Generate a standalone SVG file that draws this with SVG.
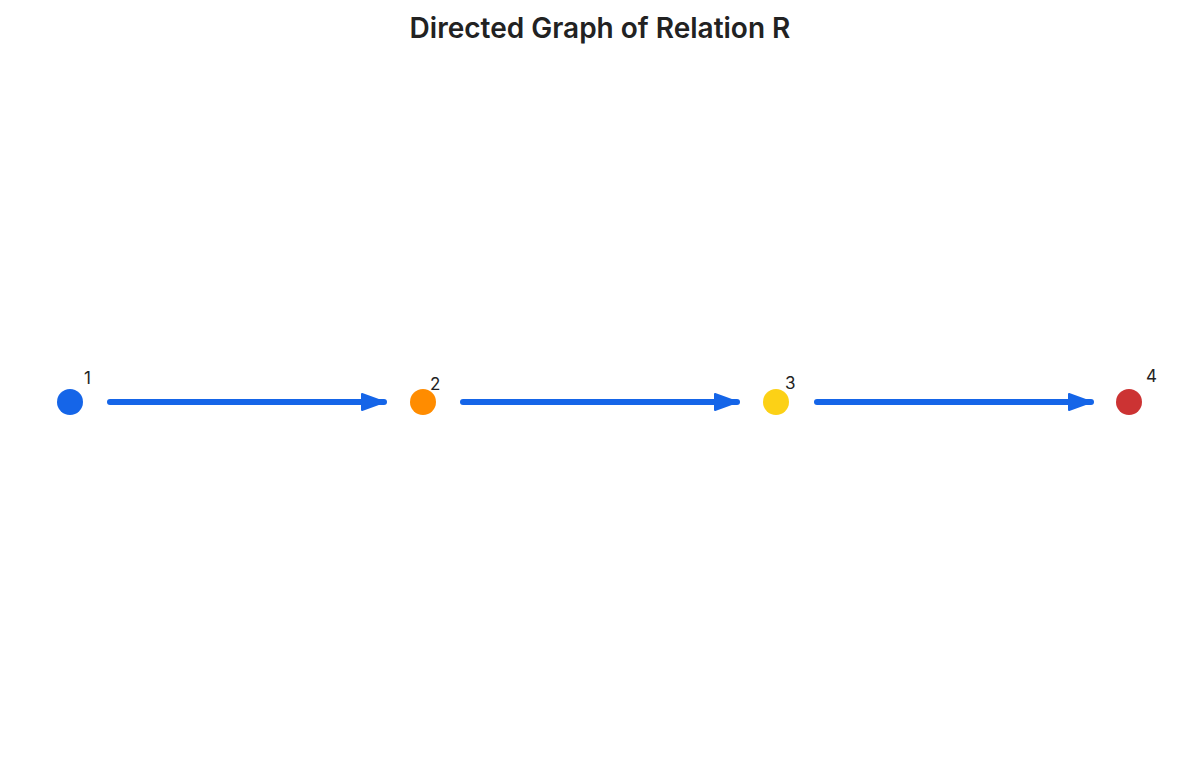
<svg xmlns="http://www.w3.org/2000/svg" width="1200" height="763" viewBox="0 0 1200 763">
<style>
.t{font-family:Inter,"Liberation Sans",sans-serif;font-size:28px;font-weight:600;fill:#222}
.l{font-family:Inter,"Liberation Sans",sans-serif;font-size:17px;fill:#222}
.e{stroke:#1565e8;stroke-width:6;stroke-linecap:round;fill:none}
</style>
<defs><marker id="a" markerUnits="userSpaceOnUse" markerWidth="26" markerHeight="20" refX="24" refY="10" orient="auto"><path d="M2,2 L24,10 L2,18 Z" fill="#1565e8" stroke="#1565e8" stroke-linejoin="round" stroke-width="2"/></marker></defs>
<rect width="1200" height="763" fill="#fff"/>
<text class="t" x="600" y="38" text-anchor="middle">Directed Graph of Relation R</text>
<g id="edges">
<line class="e" x1="110" y1="402" x2="384" y2="402" marker-end="url(#a)"/>
<line class="e" x1="463" y1="402" x2="737" y2="402" marker-end="url(#a)"/>
<line class="e" x1="817" y1="402" x2="1091" y2="402" marker-end="url(#a)"/>
</g>
<g id="n1"><circle cx="70" cy="402" r="13" fill="#1565e8"/><text class="l" x="84" y="384">1</text></g>
<g id="n2"><circle cx="423" cy="402" r="13" fill="#ff8c00"/><text class="l" x="430" y="390">2</text></g>
<g id="n3"><circle cx="776" cy="402" r="13" fill="#fcd116"/><text class="l" x="785" y="389">3</text></g>
<g id="n4"><circle cx="1129" cy="402" r="13" fill="#cc3333"/><text class="l" x="1146" y="382">4</text></g>
</svg>
